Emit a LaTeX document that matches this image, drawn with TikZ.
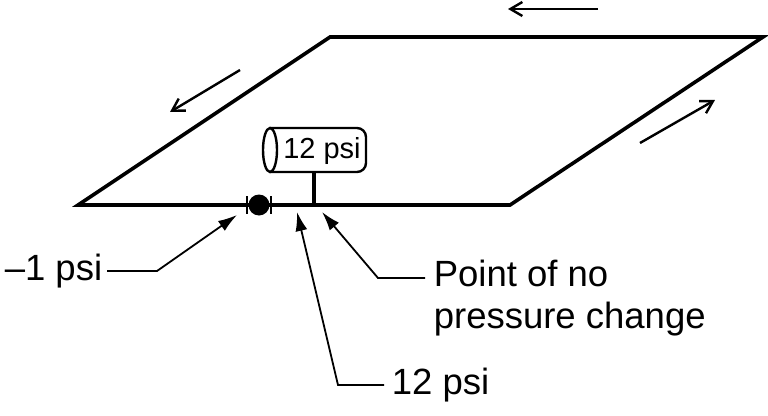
\documentclass[tikz,border=0pt]{standalone}
\usepackage{fontspec}
\setmainfont{Liberation Sans}
\begin{document}
\begin{tikzpicture}[x=1pt,y=-1pt,line width=3.6pt,
  lbl/.style={font=\fontsize{36.5}{42}\selectfont,inner sep=0pt},
  lead/.style={line width=1.8pt,-{Latex[length=19pt,width=12pt]}},
  flow/.style={line width=2.4pt,-{Straight Barb[length=12pt,width=14pt]}}]
\usetikzlibrary{arrows.meta}
\useasboundingbox (0,0) rectangle (768,415);
\coordinate (p1) at (78,205); \coordinate (p2) at (510,205);
\coordinate (p3) at (763,37); \coordinate (p4) at (330,37);
\draw (p1) -- (p2) -- (p3) -- (p4) -- cycle;
% flow arrows
\coordinate (a1) at (598,9); \coordinate (a2) at (508,9);
\coordinate (b1) at (240,70); \coordinate (b2) at (170,112);
\coordinate (c1) at (640,143); \coordinate (c2) at (715,100);
\draw[flow] (a1) -- (a2);
\draw[flow] (b1) -- (b2);
\draw[flow] (c1) -- (c2);
% pump
\node[circle,fill=black,minimum size=21pt,inner sep=0pt] (pump) at (259,205) {};
\draw[line width=1.8pt] (247,196) -- (247,214) (271,196) -- (271,214);
% tank
\draw[line width=2.4pt,rounded corners=9pt] (270,128) -- (366,128) -- (366,172) -- (270,172);
\draw[line width=2.4pt,fill=white] (270,150) ellipse (7pt and 22pt);
\node[font=\fontsize{29}{33}\selectfont,inner sep=0pt] (tank) at (322,151) {12 psi};
\coordinate (tb) at (314,172); \coordinate (tp) at (314,205);
\draw (tb) -- (tp);
% labels
\node[lbl,anchor=west] (l1) at (3,271) {–1 psi};
\node[lbl,anchor=west,align=left] (l2) at (432,298) {Point of no\\pressure change};
\node[lbl,anchor=west] (l3) at (390,385) {12 psi};
\coordinate (t1) at (237,215); \coordinate (t2) at (322,212); \coordinate (t3) at (297,212);
\draw[lead] (107,271) -- (157,271) -- (t1);
\draw[lead] (425,278) -- (378,278) -- (t2);
\draw[lead] (384,385) -- (338,385) -- (t3);
\end{tikzpicture}
\end{document}
